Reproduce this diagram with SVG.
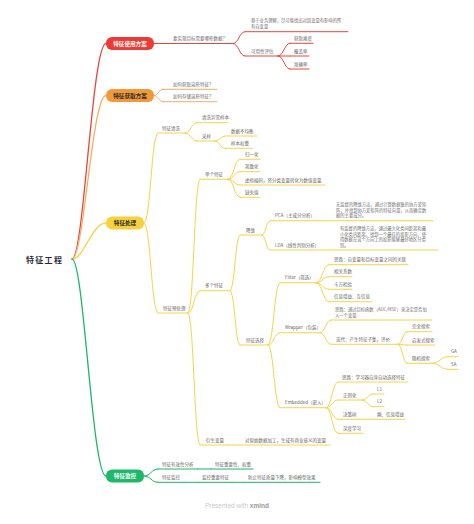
<svg xmlns="http://www.w3.org/2000/svg" width="474" height="524" viewBox="0 0 474 524">
<style>
text{font-family:"Noto Sans CJK SC","Noto Sans",sans-serif}
.t{font-size:4.5px;fill:#666}
.d{font-size:4.3px;fill:#707070}
.mt{font-size:5.6px;font-weight:bold;text-anchor:middle}
.root{font-size:8px;font-weight:bold;fill:#2a2a3a;letter-spacing:1.3px}
path,line{fill:none;stroke-linecap:round}
.r{stroke:#E8463C;stroke-width:1}
.o{stroke:#F3AE62;stroke-width:1}
.y{stroke:#F6D349;stroke-width:1}
.g{stroke:#1FB56D;stroke-width:1}
.main{stroke-width:1.3}
</style>
<rect width="474" height="524" fill="#ffffff"/>

<g id="connectors">
  <path class="r main" d="M72,259 C84,259 92,43.5 106,43.5"/>
  <path class="o main" d="M72,259 C84,259 92,95.5 106,95.5"/>
  <path class="y main" d="M72,259 C84,259 92,223 106,223"/>
  <path class="g main" d="M72,259 C84,259 92,476 106,476"/>
  <path class="r" d="M154,43.5 H160"/>
  <path class="r" d="M233,43.5 C239,43.5 239,31.7 245,31.7"/>
  <path class="r" d="M233,43.5 C239,43.5 239,56 245,56"/>
  <path class="r" d="M278,56 C284,56 284,43.3 290,43.3"/>
  <path class="r" d="M278,56 H290"/>
  <path class="r" d="M278,56 C284,56 284,69 290,69"/>
  <path class="o" d="M154,95.5 C158.5,95.5 158.5,89.3 163,89.3"/>
  <path class="o" d="M154,95.5 C158.5,95.5 158.5,101.7 163,101.7"/>
  <path class="y" d="M144,223 C151,223 151,133 158,133"/>
  <path class="y" d="M144,223 C151,223 151,313 158,313"/>
  <path class="y" d="M185,133 C191,133 191,122.7 197,122.7"/>
  <path class="y" d="M185,133 C191,133 191,141 197,141"/>
  <path class="y" d="M215,141 C220,141 220,136 225,136"/>
  <path class="y" d="M215,141 C220,141 220,148.3 225,148.3"/>
  <path class="y" d="M188,313 C194,313 194,179.3 200,179.3"/>
  <path class="y" d="M188,313 C194,313 194,290.7 200,290.7"/>
  <path class="y" d="M188,313 C194,313 194,445 200,445"/>
  <path class="y" d="M228,179.3 C234,179.3 234,159.3 240,159.3"/>
  <path class="y" d="M228,179.3 C234,179.3 234,171.7 240,171.7"/>
  <path class="y" d="M228,179.3 C234,179.3 234,185 240,185"/>
  <path class="y" d="M228,179.3 C234,179.3 234,197.3 240,197.3"/>
  <path class="y" d="M228,445 H240"/>
  <path class="y" d="M230,290.7 C235,290.7 235,235 240,235"/>
  <path class="y" d="M230,290.7 C235,290.7 235,345 240,345"/>
  <path class="y" d="M262,235 C266,235 266,220.7 270,220.7"/>
  <path class="y" d="M262,235 C266,235 266,250 270,250"/>
  <path class="y" d="M268,345 C274,345 274,282.7 280,282.7"/>
  <path class="y" d="M268,345 C274,345 274,332.7 280,332.7"/>
  <path class="y" d="M268,345 C274,345 274,407.7 280,407.7"/>
  <path class="y" d="M316,282.7 C322.5,282.7 322.5,264.7 329,264.7"/>
  <path class="y" d="M316,282.7 C322.5,282.7 322.5,276.7 329,276.7"/>
  <path class="y" d="M316,282.7 C322.5,282.7 322.5,289.3 329,289.3"/>
  <path class="y" d="M316,282.7 C322.5,282.7 322.5,301.7 329,301.7"/>
  <path class="y" d="M320,332.7 C325.5,332.7 325.5,320 331,320"/>
  <path class="y" d="M320,332.7 C325.5,332.7 325.5,344.3 331,344.3"/>
  <path class="y" d="M398,344.3 C402.5,344.3 402.5,331.7 407,331.7"/>
  <path class="y" d="M398,344.3 C402.5,344.3 402.5,345 407,345"/>
  <path class="y" d="M398,344.3 C402.5,344.3 402.5,363.3 407,363.3"/>
  <path class="y" d="M432,363.3 C440,363.3 440,356.7 448,356.7"/>
  <path class="y" d="M432,363.3 C440,363.3 440,369.3 448,369.3"/>
  <path class="y" d="M326,407.7 C332,407.7 332,382 338,382"/>
  <path class="y" d="M326,407.7 C332,407.7 332,400 338,400"/>
  <path class="y" d="M326,407.7 C332,407.7 332,419.3 338,419.3"/>
  <path class="y" d="M326,407.7 C332,407.7 332,433.3 338,433.3"/>
  <path class="y" d="M362,400 C367.5,400 367.5,394 373,394"/>
  <path class="y" d="M362,400 C367.5,400 367.5,406.7 373,406.7"/>
  <path class="y" d="M362,419.3 H373"/>
  <path class="g" d="M144,476 C151,476 151,469 158,469"/>
  <path class="g" d="M144,476 C151,476 151,482.3 158,482.3"/>
  <path class="g" d="M198,469 H211"/>
  <path class="g" d="M184,482.3 H198"/>
  <path class="g" d="M232,482.3 H244"/>
</g>

<g id="root"><text class="root" x="26" y="263">特征工程</text></g>

<g id="n-use"><rect x="106" y="37" width="48" height="13" rx="6" fill="#EC3B35"/><text class="mt" x="130" y="45.6" fill="#ffffff">特征使用方案</text></g>
<g id="n-r1"><path class="r" d="M160,43.5 H233"/><text class="t" x="173" y="40">要实现目标需要哪些数据？</text></g>
<g id="n-r2"><path class="r" d="M245,31.7 H348"/><text class="d" x="251" y="22.2">基于业务理解，尽可能找出对因变量有影响的所</text><text class="d" x="251" y="27.6">有自变量</text></g>
<g id="n-r3"><path class="r" d="M245,56 H278"/><text class="t" x="251" y="52.5">可用性评估</text></g>
<g id="n-r4"><path class="r" d="M290,43.3 H313"/><text class="t" x="294" y="39.8">获取难度</text></g>
<g id="n-r5"><path class="r" d="M290,56 H309"/><text class="t" x="294" y="52.5">覆盖率</text></g>
<g id="n-r6"><path class="r" d="M290,69 H309"/><text class="t" x="294" y="65.5">准确率</text></g>

<g id="n-get"><rect x="106" y="89" width="48" height="13" rx="6" fill="#F29A3A"/><text class="mt" x="130" y="97.6" fill="#2a2a2a">特征获取方案</text></g>
<g id="n-o1"><path class="o" d="M163,89.3 H217"/><text class="t" x="173" y="86">如何获取这些特征？</text></g>
<g id="n-o2"><path class="o" d="M163,101.7 H217"/><text class="t" x="173" y="98.2">如何存储这些特征？</text></g>

<g id="n-proc"><rect x="106" y="216.5" width="38" height="13" rx="6" fill="#F7D23E"/><text class="mt" x="125" y="225.1" fill="#2a2a2a">特征处理</text></g>
<g id="n-clean"><path class="y" d="M158,133 H185"/><text class="t" x="162" y="129.5">特征清洗</text></g>
<g id="n-clean1"><path class="y" d="M197,122.7 H228"/><text class="t" x="202" y="119.2">清洗异常样本</text></g>
<g id="n-sample"><path class="y" d="M197,141 H215"/><text class="t" x="202" y="137.5">采样</text></g>
<g id="n-s1"><path class="y" d="M225,136 H257"/><text class="t" x="231" y="132.5">数据不均衡</text></g>
<g id="n-s2"><path class="y" d="M225,148.3 H252"/><text class="t" x="231" y="144.8">样本权重</text></g>
<g id="n-pre"><path class="y" d="M158,313 H188"/><text class="t" x="163" y="309.5">特征预处理</text></g>
<g id="n-single"><path class="y" d="M200,179.3 H228"/><text class="t" x="205" y="175.8">单个特征</text></g>
<g id="n-sg1"><path class="y" d="M240,159.3 H260"/><text class="t" x="245" y="155.8">归一化</text></g>
<g id="n-sg2"><path class="y" d="M240,171.7 H260"/><text class="t" x="245" y="168.2">离散化</text></g>
<g id="n-sg3"><path class="y" d="M240,185 H325"/><text class="t" x="245" y="181.5">虚拟编码，将分类变量转化为数值变量</text></g>
<g id="n-sg4"><path class="y" d="M240,197.3 H260"/><text class="t" x="245" y="193.8">缺失值</text></g>
<g id="n-multi"><path class="y" d="M200,290.7 H230"/><text class="t" x="205" y="287.2">多个特征</text></g>
<g id="n-dim"><path class="y" d="M240,235 H262"/><text class="t" x="246" y="231.5">降维</text></g>
<g id="n-pca"><path class="y" d="M270,220.7 H433"/><text class="t" x="275" y="217.2">PCA（主成分分析）</text>
  <text class="d" x="336" y="206.4">无监督的降维方法，通过计算数据集的协方差矩</text>
  <text class="d" x="336" y="211.8">阵，并找到协方差矩阵的特征向量，从而确定数</text>
  <text class="d" x="336" y="217.2">据的主要成分。</text></g>
<g id="n-lda"><path class="y" d="M270,250 H438"/><text class="t" x="275" y="246.5">LDA（线性判别分析）</text>
  <text class="d" x="340" y="230.3">有监督的降维方法，通过最大化类间距离和最</text>
  <text class="d" x="340" y="235.7">小化类内距离，找到一个最佳的投影方向，使</text>
  <text class="d" x="340" y="241.1">得数据在这个方向上的投影能够最好地区分类</text>
  <text class="d" x="340" y="246.5">别。</text></g>
<g id="n-select"><path class="y" d="M240,345 H268"/><text class="t" x="246" y="341.5">特征选择</text></g>
<g id="n-filter"><path class="y" d="M280,282.7 H316"/><text class="t" x="285" y="279.2">Filter（筛选）</text></g>
<g id="n-f1"><path class="y" d="M329,264.7 H408"/><text class="t" x="334" y="261.2">思路：自变量和目标变量之间的关联</text></g>
<g id="n-f2"><path class="y" d="M329,276.7 H352"/><text class="t" x="334" y="273.2">相关系数</text></g>
<g id="n-f3"><path class="y" d="M329,289.3 H352"/><text class="t" x="334" y="285.8">卡方检验</text></g>
<g id="n-f4"><path class="y" d="M329,301.7 H372"/><text class="t" x="334" y="298.2">信息增益、互信息</text></g>
<g id="n-wrapper"><path class="y" d="M280,332.7 H320"/><text class="t" x="285" y="329.2">Wrapper（包装）</text></g>
<g id="n-w1"><path class="y" d="M331,320 H432"/><text class="d" x="335" y="311.1">思路：通过目标函数（AUC/MSE）来决定是否加</text><text class="d" x="335" y="316.5">入一个变量</text></g>
<g id="n-w2"><path class="y" d="M331,344.3 H398"/><text class="t" x="336" y="340.8">迭代：产生特征子集，评价</text></g>
<g id="n-w21"><path class="y" d="M407,331.7 H432"/><text class="t" x="412" y="328.2">完全搜索</text></g>
<g id="n-w22"><path class="y" d="M407,345 H435"/><text class="t" x="412" y="341.5">启发式搜索</text></g>
<g id="n-w23"><path class="y" d="M407,363.3 H432"/><text class="t" x="412" y="359.8">随机搜索</text></g>
<g id="n-ga"><path class="y" d="M448,356.7 H458"/><text class="t" x="451" y="353.2">GA</text></g>
<g id="n-sa"><path class="y" d="M448,369.3 H458"/><text class="t" x="451" y="365.8">SA</text></g>
<g id="n-embedded"><path class="y" d="M280,407.7 H326"/><text class="t" x="285" y="404.2">Embedded（嵌入）</text></g>
<g id="n-e1"><path class="y" d="M338,382 H408"/><text class="t" x="342" y="378.5">思路：学习器自身自动选择特征</text></g>
<g id="n-e2"><path class="y" d="M338,400 H362"/><text class="t" x="343" y="396.5">正则化</text></g>
<g id="n-l1"><path class="y" d="M373,394 H384"/><text class="t" x="377" y="390.5">L1</text></g>
<g id="n-l2"><path class="y" d="M373,406.7 H384"/><text class="t" x="377" y="403.2">L2</text></g>
<g id="n-e3"><path class="y" d="M338,419.3 H362"/><text class="t" x="343" y="415.8">决策树</text></g>
<g id="n-e31"><path class="y" d="M373,419.3 H405"/><text class="t" x="377" y="415.8">熵、信息增益</text></g>
<g id="n-e4"><path class="y" d="M338,433.3 H363"/><text class="t" x="343" y="429.8">深度学习</text></g>
<g id="n-derive"><path class="y" d="M200,445 H228"/><text class="t" x="206" y="441.5">衍生变量</text></g>
<g id="n-derive1"><path class="y" d="M240,445 H330"/><text class="t" x="245" y="441.5">对原始数据加工，生成有商业意义的变量</text></g>

<g id="n-mon"><rect x="106" y="469.5" width="38" height="13" rx="6" fill="#1DB86A"/><text class="mt" x="125" y="478.1" fill="#ffffff">特征监控</text></g>
<g id="n-g1"><path class="g" d="M158,469 H198"/><text class="t" x="162" y="465.5">特征有效性分析</text></g>
<g id="n-g11"><path class="g" d="M211,469 H253"/><text class="t" x="215" y="465.5">特征重要性、权重</text></g>
<g id="n-g2"><path class="g" d="M158,482.3 H184"/><text class="t" x="162" y="478.8">特征监控</text></g>
<g id="n-g21"><path class="g" d="M198,482.3 H232"/><text class="t" x="202" y="478.8">监控重要特征</text></g>
<g id="n-g22"><path class="g" d="M244,482.3 H320"/><text class="t" x="248" y="478.8">防止特征质量下降，影响模型效果</text></g>

<text x="205" y="508.3" style="font-family:'Liberation Sans',sans-serif;font-size:6.5px" fill="#c9c9c9">Presented with <tspan fill="#9a9a9a" font-weight="bold">xmind</tspan></text>
</svg>
